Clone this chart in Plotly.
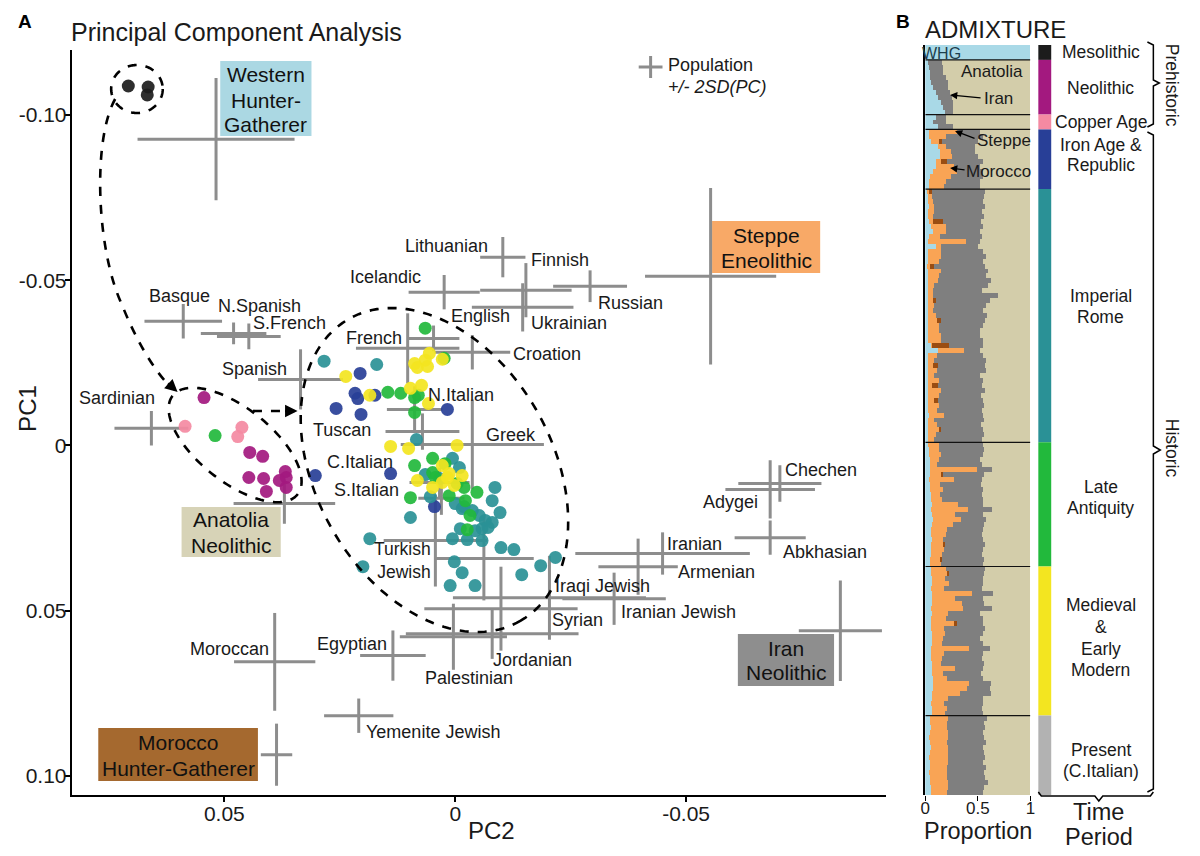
import numpy as np
import plotly.graph_objects as go

W, H = 1192, 848      # figure size (page body adds an 8px margin)
OFF = 8
FONT = "Liberation Sans, Arial, Helvetica, sans-serif"

# ---------------- Panel A: reference populations (mean PC2, PC1 and 2 SD) ----------------
pop_names = ["Western Hunter-Gatherer", "Basque", "N.Spanish", "S.French", "Spanish", "Sardinian",
             "Icelandic", "Lithuanian", "Finnish", "Ukrainian", "Russian", "Steppe Eneolithic",
             "French", "English", "Croation", "N.Italian", "Tuscan", "Greek", "C.Italian", "S.Italian",
             "Turkish Jewish", "Turkish", "Iraqi Jewish", "Iranian Jewish", "Syrian", "Jordanian",
             "Palestinian", "Egyptian", "Moroccan", "Yemenite Jewish", "Morocco Hunter-Gatherer",
             "Iran Neolithic", "Chechen", "Adygei", "Abkhasian", "Iranian", "Armenian",
             "Anatolia Neolithic"]
pop_pc2 = [0.0518, 0.0589, 0.0480, 0.0447, 0.0335, 0.0658,
           0.0024, -0.0103, -0.0153, -0.0146, -0.0292, -0.0553,
           0.0103, 0.0047, -0.0037, 0.0088, 0.0071, -0.0037, 0.0034, 0.0030,
           0.0043, -0.0062, -0.0204, -0.0344, -0.0099, -0.0080,
           0.0004, 0.0135, 0.0391, 0.0209, 0.0387,
           -0.0834, -0.0703, -0.0682, -0.0682, -0.0449, -0.0396,
           0.0370]
pop_pc1 = [-0.0927, -0.0376, -0.0339, -0.0330, -0.0200, -0.0052,
           -0.0464, -0.0570, -0.0470, -0.0418, -0.0482, -0.0512,
           -0.0294, -0.0324, -0.0282, -0.0109, -0.0042, -0.0003, 0.0112, 0.0160,
           0.0288, 0.0342, 0.0461, 0.0464, 0.0494, 0.0570,
           0.0579, 0.0636, 0.0655, 0.0818, 0.0936,
           0.0561, 0.0115, 0.0133, 0.0279, 0.0327, 0.0367,
           0.0176]
pop_sd_pc2 = [0.0170, 0.0084, 0.0071, 0.0069, 0.0092, 0.0080,
              0.0077, 0.0049, 0.0099, 0.0110, 0.0080, 0.0142,
              0.0112, 0.0056, 0.0082, 0.0060, 0.0080, 0.0155, 0.0065, 0.0050,
              0.0112, 0.0108, 0.0209, 0.0112, 0.0166, 0.0187,
              0.0116, 0.0071, 0.0088, 0.0075, 0.0034,
              0.0090, 0.0090, 0.0097, 0.0077, 0.0189, 0.0086,
              0.0110]
pop_sd_pc1 = [0.0185, 0.0052, 0.0033, 0.0039, 0.0091, 0.0052,
              0.0052, 0.0061, 0.0082, 0.0073, 0.0048, 0.0267,
              0.0106, 0.0039, 0.0052, 0.0070, 0.0055, 0.0136, 0.0045, 0.0050,
              0.0139, 0.0127, 0.0127, 0.0079, 0.0127, 0.0076,
              0.0100, 0.0076, 0.0148, 0.0052, 0.0094,
              0.0152, 0.0055, 0.0088, 0.0052, 0.0064, 0.0085,
              0.0061]

# ---------------- Panel A: ancient individuals by time period ----------------
meso_pc2 = [0.0708, 0.0665, 0.0667]
meso_pc1 = [-0.1088, -0.1085, -0.1061]
neo_pc2 = [0.0544, 0.0445, 0.0417, 0.0447, 0.0415, 0.0368, 0.0366, 0.0381, 0.0366, 0.0409]
neo_pc1 = [-0.0145, 0.0021, 0.0033, 0.0097, 0.0100, 0.0079, 0.0097, 0.0106, 0.0127, 0.0139]
copper_pc2 = [0.0585, 0.0462, 0.0471]
copper_pc1 = [-0.0058, -0.0055, -0.0027]
iron_pc2 = [0.0206, 0.0217, 0.0211, 0.0174, 0.0258, 0.0204, 0.0017, 0.0303, 0.0140, 0.0045]
iron_pc1 = [-0.0218, -0.0158, -0.0142, -0.0152, -0.0112, -0.0094, -0.0109, 0.0091, 0.0085, 0.0185]
imperial_pc2 = [0.0284, 0.0170, 0.0084, 0.0006, -0.0009, 0.0065, 0.0034, 0.0054, 0.0097, 0.0185,
                0.0200, -0.0086, -0.0080, -0.0097, 0.0000, -0.0015, -0.0037, -0.0052, -0.0065,
                -0.0080, -0.0058, -0.0043, 0.0006, -0.0026, -0.0058, -0.0011, -0.0099, -0.0127,
                0.0002, -0.0015, 0.0011, -0.0043, -0.0144, -0.0185, -0.0217, -0.0071, -0.0019]
imperial_pc1 = [-0.0255, -0.0245, -0.0018, 0.0039, 0.0067, 0.0088, 0.0100, 0.0155, 0.0218, 0.0282,
                0.0367, 0.0127, 0.0167, 0.0203, 0.0176, 0.0191, 0.0197, 0.0212, 0.0227,
                0.0233, 0.0252, 0.0258, 0.0282, 0.0285, 0.0288, 0.0252, 0.0309, 0.0315,
                0.0352, 0.0385, 0.0424, 0.0424, 0.0391, 0.0364, 0.0339, 0.0248, 0.0185]
late_pc2 = [0.0520, 0.0065, 0.0024, 0.0146, 0.0118, 0.0088, 0.0080, 0.0088, 0.0088, 0.0049, 0.0022,
            0.0049, 0.0097, 0.0013, -0.0019, -0.0047, -0.0022, -0.0032, -0.0026, -0.0004, 0.0043]
late_pc1 = [-0.0030, -0.0355, -0.0264, -0.0161, -0.0158, -0.0145, -0.0152, -0.0100, 0.0061, 0.0039,
            0.0055, 0.0082, 0.0158, 0.0152, 0.0127, 0.0142, 0.0167, 0.0212, 0.0255, 0.0115, 0.0097]
medieval_pc2 = [0.0056, 0.0065, 0.0088, 0.0082, 0.0060, 0.0028, 0.0237, 0.0073, 0.0097, 0.0185,
                0.0058, 0.0140, 0.0101, -0.0004, 0.0028, 0.0013, -0.0015, 0.0082, 0.0049, 0.0028,
                0.0002, 0.0017]
medieval_pc1 = [-0.0279, -0.0258, -0.0248, -0.0236, -0.0239, -0.0261, -0.0209, -0.0182, -0.0173,
                -0.0152, -0.0127, 0.0003, 0.0009, 0.0000, 0.0061, 0.0085, 0.0091, 0.0106, 0.0127,
                0.0112, 0.0121, 0.0097]

# ---------------- Panel B: ADMIXTURE proportions per individual ----------------
# components: WHG, Steppe, Morocco, Iran (Anatolia = remainder)
meso_whg = [1.0, 1.0, 1.0]
meso_steppe = [0, 0, 0]
meso_morocco = [0, 0, 0]
meso_iran = [0, 0, 0]

neo_whg = [0.03, 0.04, 0.05, 0.05, 0.06, 0.08, 0.10, 0.12, 0.15, 0.17, 0.19]
neo_steppe = [0] * 11
neo_morocco = [0] * 11
neo_iran = [0.13, 0.13, 0.12, 0.15, 0.16, 0.14, 0.14, 0.14, 0.12, 0.10, 0.08]

copper_whg = [0.10, 0.08, 0.12]
copper_steppe = [0, 0, 0]
copper_morocco = [0, 0, 0]
copper_iran = [0.10, 0.12, 0.15]

iron_whg = [0.04, 0.04, 0.06, 0.12, 0.14, 0.14, 0.10, 0.10, 0.08, 0.05, 0.04, 0.04]
iron_steppe = [0.26, 0.16, 0.07, 0.08, 0.11, 0.12, 0.05, 0.18, 0.22, 0.20, 0.16, 0.14]
iron_morocco = [0, 0, 0.03, 0, 0, 0, 0.06, 0, 0, 0, 0, 0]
iron_iran = [0.22, 0.35, 0.34, 0.28, 0.23, 0.24, 0.34, 0.24, 0.25, 0.30, 0.32, 0.34]

imperial_whg = [0.02, 0.03, 0.03, 0.04, 0.03, 0.03, 0.04, 0.06, 0.08, 0.04, 0.03, 0.10, 0.03,
                0.03, 0.03, 0.02, 0.03, 0.03, 0.03, 0.03, 0.03, 0.03, 0.03, 0.03, 0.03, 0.03,
                0.03, 0.03, 0.03, 0.03, 0.03, 0.06, 0.12, 0.03, 0.03, 0.03, 0.03, 0.03, 0.03,
                0.03, 0.03, 0.03, 0.03, 0.03, 0.03, 0.04, 0.03, 0.03, 0.03, 0.03, 0.03]
imperial_steppe = [0.02, 0.04, 0.05, 0.05, 0.06, 0.05, 0.04, 0.14, 0.12, 0.10, 0.36, 0.05, 0.12,
                   0.12, 0.10, 0.03, 0.12, 0.10, 0.09, 0.06, 0.05, 0.05, 0.05, 0.06, 0.05, 0.07,
                   0.08, 0.10, 0.10, 0.12, 0.12, 0.01, 0.25, 0.08, 0.06, 0.05, 0.08, 0.06, 0.10,
                   0.04, 0.12, 0.10, 0.06, 0.10, 0.08, 0.14, 0.06, 0.08, 0.10, 0.07, 0.06]
imperial_morocco = [0.03, 0, 0, 0, 0, 0, 0.09, 0, 0, 0, 0, 0, 0,
                    0, 0, 0.04, 0, 0, 0, 0, 0, 0, 0.02, 0, 0, 0,
                    0.04, 0, 0, 0, 0, 0.16, 0, 0, 0, 0.04, 0, 0, 0,
                    0.05, 0, 0, 0.03, 0, 0, 0, 0, 0, 0.02, 0, 0]
imperial_iran = [0.50, 0.49, 0.47, 0.48, 0.45, 0.48, 0.36, 0.35, 0.32, 0.40, 0.13, 0.35, 0.40,
                 0.43, 0.42, 0.48, 0.45, 0.45, 0.51, 0.51, 0.46, 0.61, 0.52, 0.49, 0.47, 0.49,
                 0.42, 0.42, 0.39, 0.37, 0.40, 0.32, 0.15, 0.44, 0.49, 0.45, 0.47, 0.43, 0.42,
                 0.42, 0.42, 0.40, 0.43, 0.43, 0.43, 0.37, 0.47, 0.42, 0.40, 0.46, 0.45]

late_whg = [0.03, 0.04, 0.04, 0.05, 0.05, 0.05, 0.05, 0.04, 0.05, 0.05, 0.06, 0.06, 0.07,
            0.06, 0.07, 0.08, 0.07, 0.06, 0.06, 0.07, 0.06, 0.06, 0.06, 0.05, 0.05]
late_steppe = [0.10, 0.09, 0.11, 0.08, 0.06, 0.44, 0.10, 0.24, 0.09, 0.12, 0.08, 0.10, 0.24,
               0.35, 0.22, 0.26, 0.20, 0.15, 0.14, 0.10, 0.11, 0.12, 0.10, 0.09, 0.10]
late_morocco = [0, 0, 0, 0, 0, 0, 0.02, 0, 0, 0, 0, 0, 0,
                0, 0, 0, 0, 0, 0, 0, 0.02, 0, 0, 0.02, 0]
late_iran = [0.42, 0.43, 0.40, 0.39, 0.43, 0.15, 0.39, 0.26, 0.39, 0.38, 0.40, 0.39, 0.24,
             0.23, 0.26, 0.24, 0.29, 0.34, 0.34, 0.38, 0.38, 0.37, 0.38, 0.40, 0.40]

medieval_whg = [0.06, 0.06, 0.07, 0.07, 0.06, 0.07, 0.07, 0.07, 0.06, 0.07, 0.06, 0.06, 0.06,
                0.07, 0.07, 0.07, 0.06, 0.06, 0.06, 0.07, 0.07, 0.07, 0.08, 0.08, 0.08, 0.07,
                0.07, 0.06, 0.07, 0.07]
medieval_steppe = [0.14, 0.15, 0.12, 0.16, 0.12, 0.38, 0.22, 0.28, 0.30, 0.15, 0.14, 0.22, 0.12,
                   0.12, 0.10, 0.09, 0.36, 0.12, 0.10, 0.08, 0.22, 0.10, 0.13, 0.34, 0.32, 0.26,
                   0.15, 0.12, 0.14, 0.12]
medieval_morocco = [0, 0.02, 0, 0, 0, 0, 0, 0, 0, 0, 0, 0.02, 0,
                    0, 0, 0, 0, 0, 0, 0, 0, 0, 0, 0, 0, 0,
                    0, 0, 0, 0]
medieval_iran = [0.37, 0.33, 0.36, 0.32, 0.36, 0.20, 0.26, 0.21, 0.28, 0.30, 0.35, 0.25, 0.39,
                 0.36, 0.35, 0.39, 0.20, 0.37, 0.38, 0.41, 0.26, 0.36, 0.34, 0.21, 0.22, 0.30,
                 0.33, 0.37, 0.33, 0.36]

present_whg = [0.05, 0.05, 0.06, 0.05, 0.04, 0.05, 0.06, 0.05, 0.04, 0.05, 0.05, 0.04, 0.05,
               0.05, 0.06, 0.06]
present_steppe = [0.17, 0.16, 0.15, 0.17, 0.18, 0.16, 0.16, 0.17, 0.18, 0.17, 0.16, 0.17, 0.16,
                  0.17, 0.16, 0.15]
present_morocco = [0] * 16
present_iran = [0.37, 0.35, 0.36, 0.33, 0.34, 0.37, 0.33, 0.34, 0.35, 0.33, 0.37, 0.35, 0.36,
                0.38, 0.34, 0.34]

period_names = ["Mesolithic", "Neolithic", "Copper Age", "Iron Age & Republic", "Imperial Rome",
                "Late Antiquity", "Medieval & Early Modern", "Present (C.Italian)"]
period_colors = ["#1c1c1c", "#a3197f", "#f48aa2", "#283f97", "#2a9196", "#22b93c", "#f3e520", "#b2b2b2"]

whg_all = [meso_whg, neo_whg, copper_whg, iron_whg, imperial_whg, late_whg, medieval_whg, present_whg]
steppe_all = [meso_steppe, neo_steppe, copper_steppe, iron_steppe, imperial_steppe, late_steppe,
              medieval_steppe, present_steppe]
morocco_all = [meso_morocco, neo_morocco, copper_morocco, iron_morocco, imperial_morocco,
               late_morocco, medieval_morocco, present_morocco]
iran_all = [meso_iran, neo_iran, copper_iran, iron_iran, imperial_iran, late_iran, medieval_iran,
            present_iran]


# ---------------- helpers (screen pixel -> paper) ----------------
def px(x):
    return (x - OFF) / W


def py(y):
    return 1 - (y - OFF) / H


fig = go.Figure()

# population crosses
fig.add_trace(go.Scatter(
    x=pop_pc2, y=pop_pc1, mode="markers", text=pop_names, hoverinfo="text",
    marker=dict(size=2, color="rgba(0,0,0,0)"),
    error_x=dict(type="data", array=pop_sd_pc2, visible=True, width=0, thickness=3, color="#8d8d8d"),
    error_y=dict(type="data", array=pop_sd_pc1, visible=True, width=0, thickness=3, color="#8d8d8d"),
    showlegend=False, xaxis="x", yaxis="y"))

pts = [(meso_pc2, meso_pc1, period_colors[0]), (neo_pc2, neo_pc1, period_colors[1]),
       (copper_pc2, copper_pc1, period_colors[2]), (iron_pc2, iron_pc1, period_colors[3]),
       (imperial_pc2, imperial_pc1, period_colors[4]), (late_pc2, late_pc1, period_colors[5]),
       (medieval_pc2, medieval_pc1, period_colors[6])]
for xs, ys, c in pts:
    fig.add_trace(go.Scatter(x=xs, y=ys, mode="markers", showlegend=False,
                             marker=dict(size=13, color=c, opacity=0.92, line=dict(width=0)),
                             xaxis="x", yaxis="y"))

# ADMIXTURE stacked bars
rows, whg_v, st_v, mo_v, ir_v, an_v, bounds = [], [], [], [], [], [], [0]
r = 0
for k in range(len(period_names)):
    n = len(whg_all[k])
    for i in range(n):
        a, b, c, d = whg_all[k][i], steppe_all[k][i], morocco_all[k][i], iran_all[k][i]
        rows.append(r)
        whg_v.append(a)
        st_v.append(b)
        mo_v.append(c)
        ir_v.append(d)
        an_v.append(max(0.0, 1 - a - b - c - d))
        r += 1
    bounds.append(r)

comp = [("WHG", whg_v, "#a9d9e7"), ("Steppe", st_v, "#f9a455"), ("Morocco", mo_v, "#9a4d12"),
        ("Iran", ir_v, "#7f7f7f"), ("Anatolia", an_v, "#d3cdaa")]
for name, vals, col in comp:
    fig.add_trace(go.Bar(x=vals, y=rows, orientation="h", name=name,
                         marker=dict(color=col, line=dict(width=0)),
                         width=1.0, showlegend=False, xaxis="x2", yaxis="y2"))

shapes = []
# section separators and time-period strip
for k in range(len(period_names)):
    y0, y1 = bounds[k] - 0.5, bounds[k + 1] - 0.5
    shapes.append(dict(type="rect", xref="paper", yref="y2", x0=px(1042), x1=px(1055), y0=y0, y1=y1,
                       fillcolor=period_colors[k], line=dict(width=0), layer="above"))
    if k > 0:
        shapes.append(dict(type="line", xref="x2", yref="y2", x0=0, x1=1, y0=y0, y1=y0,
                           line=dict(color="#111111", width=1.2), layer="above"))


def ell_path(cx, cy, a, b, ang, n=160):
    t = np.linspace(0, 2 * np.pi, n)
    th = np.deg2rad(ang)
    x = cx + a * np.cos(t) * np.cos(th) - b * np.sin(t) * np.sin(th)
    y = cy + a * np.cos(t) * np.sin(th) + b * np.sin(t) * np.cos(th)
    return "M " + " L ".join(f"{px(u):.5f},{py(v):.5f}" for u, v in zip(x, y)) + " Z"


dash = dict(color="black", width=2.6, dash="dash")
shapes.append(dict(type="path", xref="paper", yref="paper", path=ell_path(133, 89, 26, 24, 0), line=dash))
shapes.append(dict(type="path", xref="paper", yref="paper", path=ell_path(232, 445, 80, 37, 38), line=dash))
shapes.append(dict(type="path", xref="paper", yref="paper", path=ell_path(433, 470, 174, 119, 60), line=dash))


def P(x, y):
    return f"{px(x):.5f},{py(y):.5f}"


shapes.append(dict(type="path", xref="paper", yref="paper", line=dash,
                   path=f"M {P(111, 99)} C {P(88, 140)} {P(92, 250)} {P(118, 305)} "
                        f"C {P(132, 340)} {P(150, 370)} {P(166, 386)}"))
shapes.append(dict(type="line", xref="paper", yref="paper", x0=px(250), x1=px(284), y0=py(411), y1=py(411),
                   line=dash))

# label boxes
boxes = [(217, 309, 61, 136, "#abd8e3"), (713, 822, 221, 273, "#f8a967"), (178, 278, 507, 557, "#d7d3b7"),
         (94, 255, 728, 781, "#a5692f"), (739, 836, 634, 686, "#8e8e8e")]
for x0, x1, y0, y1, c in boxes:
    shapes.append(dict(type="rect", xref="paper", yref="paper", x0=px(x0), x1=px(x1), y0=py(y0), y1=py(y1),
                       fillcolor=c, line=dict(width=0), layer="below"))

# legend cross
g = dict(color="#8d8d8d", width=3)
shapes.append(dict(type="line", xref="paper", yref="paper", x0=px(639), x1=px(663), y0=py(67), y1=py(67), line=g))
shapes.append(dict(type="line", xref="paper", yref="paper", x0=px(651), x1=px(651), y0=py(56), y1=py(78), line=g))

# braces
k_ = dict(color="black", width=1.5)
brace_paths = [
    f"M {P(1152, 42)} L {P(1158, 45)} L {P(1158, 80)} L {P(1164, 83)} L {P(1158, 86)} L {P(1158, 124)} L {P(1152, 127)}",
    f"M {P(1152, 132)} L {P(1158, 135)} L {P(1158, 446)} L {P(1165, 450)} L {P(1158, 454)} L {P(1158, 789)} L {P(1152, 792)}",
    f"M {P(1042, 792)} L {P(1045, 796)} L {P(1099, 796)} L {P(1103, 801)} L {P(1107, 796)} L {P(1155, 796)} L {P(1158, 792)}",
]
for p in brace_paths:
    shapes.append(dict(type="path", xref="paper", yref="paper", path=p, line=k_))

ann = []


def T(text, x, y, size=18, xa="center", ya="middle", color="#1a1a1a", angle=0, bold=False, italic=False,
      align="center"):
    if bold:
        text = f"<b>{text}</b>"
    if italic:
        text = f"<i>{text}</i>"
    ann.append(dict(text=text, x=px(x), y=py(y), xref="paper", yref="paper", showarrow=False,
                    xanchor=xa, yanchor=ya, textangle=angle, align=align,
                    font=dict(family=FONT, size=size, color=color)))


def ARW(x, y, ax, ay, width=2.2, size=1.1, head=2):
    ann.append(dict(text="", x=px(x), y=py(y), xref="paper", yref="paper", showarrow=True,
                    ax=ax, ay=ay, arrowhead=head, arrowsize=size, arrowwidth=width, arrowcolor="black",
                    standoff=0))


T("A", 20, 9, size=19, bold=True, color="black", ya="top")
T("B", 906, 9, size=19, bold=True, color="black", ya="top")
T("Principal Component Analysis", 64, 32, size=25, xa="left")
T("ADMIXTURE", 926, 29, size=24, xa="left")
T("Population", 667, 65, size=18, xa="left")
T("+/- 2SD(PC)", 667, 87, size=18, xa="left", italic=True)
T("PC1", 22, 408, size=24, angle=-90)
T("PC2", 491, 830, size=24)

labels = [("Basque", 176, 296), ("N.Spanish", 257, 306), ("S.French", 287, 323), ("Spanish", 252, 369),
          ("Sardinian", 113, 398), ("Icelandic", 384, 277), ("Lithuanian", 445, 246), ("Finnish", 560, 260),
          ("Russian", 631, 303), ("English", 479, 316), ("Ukrainian", 569, 323), ("Croation", 547, 354),
          ("French", 372, 338), ("N.Italian", 460, 395), ("Greek", 510, 435), ("Tuscan", 340, 430),
          ("C.Italian", 358, 462), ("S.Italian", 364, 490), ("Iraqi Jewish", 602, 586), ("Syrian", 577, 620),
          ("Iranian Jewish", 679, 612), ("Jordanian", 532, 660), ("Palestinian", 468, 678),
          ("Egyptian", 350, 644), ("Moroccan", 226, 649), ("Yemenite Jewish", 432, 732),
          ("Iranian", 695, 544), ("Armenian", 717, 572), ("Adygei", 732, 502), ("Chechen", 823, 470),
          ("Abkhasian", 827, 552)]
for t, x, y in labels:
    T(t, x, y)
T("Turkish<br>Jewish", 432, 560, size=17.5, xa="right", align="right")

for lines, x, ys in [(["Western", "Hunter-", "Gatherer"], 263, [74, 100, 125]),
                     (["Steppe", "Eneolithic"], 768, [235, 260]),
                     (["Anatolia", "Neolithic"], 228, [519, 545]),
                     (["Morocco", "Hunter-Gatherer"], 175, [742, 768]),
                     (["Iran", "Neolithic"], 788, [648, 672])]:
    for t, y in zip(lines, ys):
        T(t, x, y, size=21, color="#111111")

ARW(174, 392, -11, -10, width=2.5, size=1.0)
ARW(295, 411, -14, 0, width=2.5, size=1.0)

# panel B texts
T("WHG", 944, 53, size=16, color="#1d3f4d")
T("Anatolia", 995, 72, size=17)
T("Iran", 1002, 98, size=17)
T("Steppe", 1007, 140, size=17)
T("Morocco", 1002, 171, size=17)
ARW(953, 95, 32, 3, width=1.2, size=1.2)
ARW(958, 131, 21, 8, width=1.2, size=1.2)
ARW(953, 168, 16, 2, width=1.2, size=1.2)

for t, y in [("Mesolithic", 52), ("Neolithic", 88), ("Copper Age", 122), ("Iron Age &", 145), ("Republic", 165),
             ("Imperial", 296), ("Rome", 317), ("Late", 487), ("Antiquity", 508), ("Medieval", 605), ("&", 627),
             ("Early", 649), ("Modern", 670), ("Present", 750), ("(C.Italian)", 771)]:
    T(t, 1105, y, size=17.5)
T("Prehistoric", 1177, 85, size=17.5, angle=90)
T("Historic", 1177, 448, size=17.5, angle=90)
T("Proportion", 981, 831, size=23.5)
T("Time", 1103, 812, size=23.5)
T("Period", 1103, 837, size=23.5)

axis_common = dict(showgrid=False, zeroline=False, showline=True, linecolor="black", linewidth=1.5,
                   ticks="outside", ticklen=5, tickwidth=1.5, tickcolor="black",
                   tickfont=dict(family=FONT, size=21, color="#1a1a1a"))

fig.update_layout(
    width=W, height=H, autosize=False, margin=dict(l=0, r=0, t=0, b=0),
    paper_bgcolor="white", plot_bgcolor="white", barmode="stack", bargap=0,
    xaxis=dict(domain=[px(67), px(888)], range=[0.0831, -0.0932], anchor="y",
               tickvals=[0.05, 0, -0.05], ticktext=["0.05", "0", "-0.05"], ticklabelstandoff=-6,
               **axis_common),
    yaxis=dict(domain=[py(795), py(50)], range=[0.1058, -0.1197], anchor="x",
               tickvals=[-0.10, -0.05, 0, 0.05, 0.10], ticktext=["-0.10", "-0.05", "0", "0.05", "0.10"],
               ticklabelstandoff=-6, **axis_common),
    xaxis2=dict(domain=[px(928), px(1034)], range=[0, 1], anchor="y2", showgrid=False, zeroline=False,
                showline=False, ticks="outside", ticklen=5, tickwidth=1.2, tickcolor="black",
                tickvals=[0, 0.5, 1], ticktext=["0", "0.5", "1"], ticklabelstandoff=-7,
                tickfont=dict(family=FONT, size=17, color="#1a1a1a")),
    yaxis2=dict(domain=[py(795), py(45)], range=[len(rows) - 0.5, -0.5], anchor="x2", showgrid=False,
                zeroline=False, showline=True, linecolor="black", linewidth=1.5, showticklabels=False,
                ticks=""),
    shapes=shapes, annotations=ann,
)

fig.write_html("out.html")
